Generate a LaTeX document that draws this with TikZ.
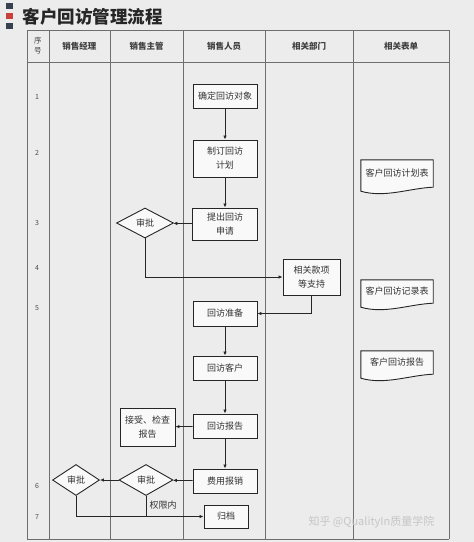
\documentclass[tikz,border=0pt]{standalone}
\usepackage{fontspec}
\setmainfont{Noto Sans CJK SC}
\usetikzlibrary{shapes.geometric,arrows.meta}

\definecolor{bgc}{RGB}{236,236,236}
\definecolor{linec}{RGB}{110,110,110}
\definecolor{navy}{RGB}{55,65,80}
\definecolor{redsq}{RGB}{200,65,58}

\tikzset{
  box/.style={draw=black!85, line width=.9pt, fill=white!70!bgc, align=center,
    inner sep=1pt, font=\fontsize{9}{14}\selectfont, text=black!80},
  check/.style={diamond, draw=black!85, line width=.9pt, fill=white!70!bgc,
    inner sep=0pt, font=\fontsize{9}{10}\selectfont, text=black!80},
  doc/.style={align=center, minimum width=72pt, inner sep=0pt, font=\fontsize{9}{10}\selectfont, text=black!80},
  flow/.style={-{Latex[length=4pt,width=3.5pt]}, line width=.8pt, black!85},
  head/.style={font=\fontsize{8.5}{11}\selectfont\bfseries, text=black!75},
}

\begin{document}
\begin{tikzpicture}[x=1pt,y=-1pt]
   \fill[bgc] (0,0) rectangle (474,542);
   \useasboundingbox (0,0) rectangle (474,542);

   % title
   \fill[navy] (6,3) rectangle (13,9);
   \fill[redsq] (6,13) rectangle (13,19);
   \fill[navy] (6,23) rectangle (13,29);
   \node[anchor=west, font=\fontsize{17.5}{20}\selectfont\bfseries, text=black!85] (T) at (19,17) {客户回访管理流程};

   % table
   \foreach \x in {27,49,110,183,265,353,449}
   \draw[linec, line width=.7pt] (\x,30) -- (\x,539);
   \draw[linec, line width=.7pt] (27,30) -- (449,30);
   \draw[linec, line width=.7pt] (27,62) -- (449,62);
   \draw[linec, line width=.7pt] (27,539) -- (449,539);

   \node[head, align=center, font=\fontsize{7.5}{10}\selectfont] (H0) at (38,46) {序\\号};
   \node[head] (H1) at (79.5,46) {销售经理};
   \node[head] (H2) at (146.5,46) {销售主管};
   \node[head] (H3) at (224,46) {销售人员};
   \node[head] (H4) at (309,46) {相关部门};
   \node[head] (H5) at (401,46) {相关表单};

   \foreach \n/\y in {1/97,2/153,3/223,4/268,5/308,6/486,7/517}
   \node[font=\fontsize{7}{8}\selectfont, text=black!70] (R\n) at (37,\y) {\n};

   % flow
   \node[box, minimum width=64pt, minimum height=24pt] (A) at (225,96) {确定回访对象};
   \node[box, minimum width=64pt, minimum height=37pt] (B) at (225,158.5) {制订回访\\计划};
   \node[box, minimum width=65pt, minimum height=32pt] (C) at (225,224) {提出回访\\申请};
   \node[check, minimum width=57pt, minimum height=30pt] (D) at (145,223) {审批};
   \node[box, minimum width=57pt, minimum height=36pt] (E) at (311.5,277) {相关款项\\等支持};
   \node[box, minimum width=64pt, minimum height=25pt] (F) at (225,313.5) {回访准备};
   \node[box, minimum width=64pt, minimum height=24pt] (G) at (225,368) {回访客户};
   \node[box, minimum width=64pt, minimum height=24pt] (H) at (225,426) {回访报告};
   \node[box, minimum width=55pt, minimum height=38pt] (I) at (147.5,427) {接受、检查\\报告};
   \node[box, minimum width=64pt, minimum height=24pt] (J) at (225,481) {费用报销};
   \node[check, minimum width=54pt, minimum height=31pt] (K) at (146,480) {审批};
   \node[check, minimum width=47pt, minimum height=31pt] (L) at (76,480) {审批};
   \node[box, minimum width=44pt, minimum height=23pt] (M) at (226,516.5) {归档};
   \node[font=\fontsize{9}{10}\selectfont, text=black!80] (N) at (163,505) {权限内};

   \draw[flow] (A) -- (B);
   \draw[flow] (B) -- (C);
   \draw[flow] (C) -- (D);
   \draw[flow] (D.south) |- (E.west);
   \draw[flow] (E.south) |- (F.east);
   \draw[flow] (F) -- (G);
   \draw[flow] (G) -- (H);
   \draw[flow] (H) -- (I);
   \draw[flow] (H) -- (J);
   \draw[flow] (J) -- (K);
   \draw[flow] (K) -- (L);
   \draw[flow] (L.south) |- (M.west);
   \draw[line width=.8pt, black!85] (K.south) -- (K.south |- M.west);

   % forms
   \node[doc, minimum height=26pt] (P) at (397,173) {客户回访计划表};
   \node[doc, minimum height=22pt] (Q) at (397,291) {客户回访记录表};
   \node[doc, minimum height=22pt] (S) at (397,362) {客户回访报告};
   \foreach \d in {P,Q,S}
   \draw[line width=.9pt, black!85, fill=white!70!bgc]
     ([yshift=-5pt]\d.south west) -- (\d.north west) -- (\d.north east) -- ([yshift=-1pt]\d.south east)
     .. controls ([xshift=-24pt,yshift=-2pt]\d.south east) and ([xshift=24pt,yshift=-12pt]\d.south west) .. ([yshift=-5pt]\d.south west) -- cycle;
   \node[doc, minimum height=26pt] at (P) {客户回访计划表};
   \node[doc, minimum height=22pt] at (Q) {客户回访记录表};
   \node[doc, minimum height=22pt] at (S) {客户回访报告};

   % watermark
   \node[font=\fontsize{11}{12}\selectfont, text=white!55!gray, anchor=west] (W) at (305,522) {知乎 @QualityIn质量学院};
\end{tikzpicture}
\end{document}
